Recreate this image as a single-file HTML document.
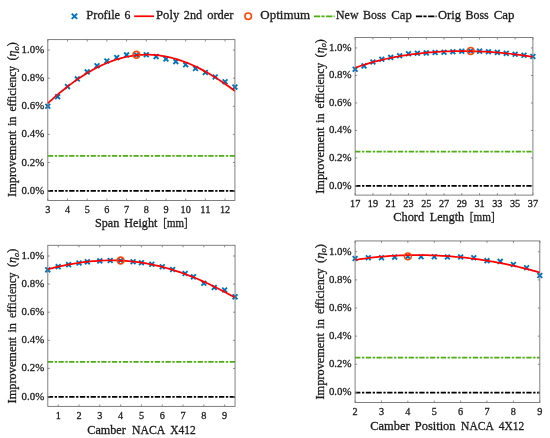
<!DOCTYPE html>
<html><head><meta charset="utf-8"><title>Improvement in efficiency</title>
<style>
html,body{margin:0;padding:0;background:#fff;}
svg{display:block;}
text{font-family:"Liberation Serif", "DejaVu Serif", serif;fill:#1c1c1c;stroke:#1c1c1c;stroke-width:0.3px;}
.lb{stroke-width:0.32px;}
</style></head><body>
<svg width="550" height="438" viewBox="0 0 550 438">
<rect width="550" height="438" fill="#fff"/>
<path d="M71.75 13.55L77.15 18.95M71.75 18.95L77.15 13.55" stroke="#0072BD" stroke-width="1.9" fill="none"/>
<line x1="134.2" x2="154.0" y1="16.25" y2="16.25" stroke="#FF0000" stroke-width="1.7"/>
<circle cx="248.20" cy="16.25" r="3.25" stroke="#FF4500" stroke-width="1.6" fill="none"/>
<line x1="313.9" x2="334.6" y1="16.35" y2="16.35" stroke="#4CAF10" stroke-width="1.6" stroke-dasharray="6.3 1.2 3.2 1.5"/>
<line x1="415.9" x2="436.6" y1="16.35" y2="16.35" stroke="#000000" stroke-width="1.6" stroke-dasharray="6.3 1.2 3.2 1.5"/>
<text class="lb" y="19.20" font-size="13.2"><tspan x="86.35" textLength="33.80" lengthAdjust="spacingAndGlyphs">Profile</tspan> <tspan x="124.45" textLength="5.90" lengthAdjust="spacingAndGlyphs">6</tspan></text>
<text class="lb" y="19.20" font-size="13.2"><tspan x="156.05" textLength="23.20" lengthAdjust="spacingAndGlyphs">Poly</tspan> <tspan x="183.85" textLength="18.30" lengthAdjust="spacingAndGlyphs">2nd</tspan> <tspan x="207.15" textLength="26.40" lengthAdjust="spacingAndGlyphs">order</tspan></text>
<text class="lb" y="19.20" font-size="13.2"><tspan x="260.35" textLength="49.70" lengthAdjust="spacingAndGlyphs">Optimum</tspan></text>
<text class="lb" y="19.20" font-size="13.2"><tspan x="336.05" textLength="22.40" lengthAdjust="spacingAndGlyphs">New</tspan> <tspan x="363.05" textLength="23.20" lengthAdjust="spacingAndGlyphs">Boss</tspan> <tspan x="391.35" textLength="20.60" lengthAdjust="spacingAndGlyphs">Cap</tspan></text>
<text class="lb" y="19.20" font-size="13.2"><tspan x="438.05" textLength="22.90" lengthAdjust="spacingAndGlyphs">Orig</tspan> <tspan x="465.55" textLength="23.20" lengthAdjust="spacingAndGlyphs">Boss</tspan> <tspan x="493.65" textLength="20.80" lengthAdjust="spacingAndGlyphs">Cap</tspan></text>
<line x1="47.8" x2="234.9" y1="155.88" y2="155.88" stroke="#4CAF10" stroke-width="1.75" stroke-dasharray="5.3 1.6 2.3 1.5"/>
<line x1="47.8" x2="234.9" y1="190.85" y2="190.85" stroke="#000000" stroke-width="1.75" stroke-dasharray="5.3 1.6 2.3 1.5"/>
<path d="M45.40 103.90L50.20 108.70M45.40 108.70L50.20 103.90" stroke="#0072BD" stroke-width="1.85" fill="none"/>
<path d="M55.25 94.40L60.05 99.20M55.25 99.20L60.05 94.40" stroke="#0072BD" stroke-width="1.85" fill="none"/>
<path d="M65.09 84.20L69.89 89.00M65.09 89.00L69.89 84.20" stroke="#0072BD" stroke-width="1.85" fill="none"/>
<path d="M74.94 76.50L79.74 81.30M74.94 81.30L79.74 76.50" stroke="#0072BD" stroke-width="1.85" fill="none"/>
<path d="M84.79 69.50L89.59 74.30M84.79 74.30L89.59 69.50" stroke="#0072BD" stroke-width="1.85" fill="none"/>
<path d="M94.64 63.40L99.44 68.20M94.64 68.20L99.44 63.40" stroke="#0072BD" stroke-width="1.85" fill="none"/>
<path d="M104.48 58.60L109.28 63.40M104.48 63.40L109.28 58.60" stroke="#0072BD" stroke-width="1.85" fill="none"/>
<path d="M114.33 55.20L119.13 60.00M114.33 60.00L119.13 55.20" stroke="#0072BD" stroke-width="1.85" fill="none"/>
<path d="M124.18 52.50L128.98 57.30M124.18 57.30L128.98 52.50" stroke="#0072BD" stroke-width="1.85" fill="none"/>
<path d="M134.03 52.60L138.83 57.40M134.03 57.40L138.83 52.60" stroke="#0072BD" stroke-width="1.85" fill="none"/>
<path d="M143.87 52.40L148.67 57.20M143.87 57.20L148.67 52.40" stroke="#0072BD" stroke-width="1.85" fill="none"/>
<path d="M153.72 54.20L158.52 59.00M153.72 59.00L158.52 54.20" stroke="#0072BD" stroke-width="1.85" fill="none"/>
<path d="M163.57 56.50L168.37 61.30M163.57 61.30L168.37 56.50" stroke="#0072BD" stroke-width="1.85" fill="none"/>
<path d="M173.42 59.20L178.22 64.00M173.42 64.00L178.22 59.20" stroke="#0072BD" stroke-width="1.85" fill="none"/>
<path d="M183.26 62.35L188.06 67.15M183.26 67.15L188.06 62.35" stroke="#0072BD" stroke-width="1.85" fill="none"/>
<path d="M193.11 66.10L197.91 70.90M193.11 70.90L197.91 66.10" stroke="#0072BD" stroke-width="1.85" fill="none"/>
<path d="M202.96 70.10L207.76 74.90M202.96 74.90L207.76 70.10" stroke="#0072BD" stroke-width="1.85" fill="none"/>
<path d="M212.81 74.60L217.61 79.40M212.81 79.40L217.61 74.60" stroke="#0072BD" stroke-width="1.85" fill="none"/>
<path d="M222.65 79.40L227.45 84.20M222.65 84.20L227.45 79.40" stroke="#0072BD" stroke-width="1.85" fill="none"/>
<path d="M232.50 84.70L237.30 89.50M232.50 89.50L237.30 84.70" stroke="#0072BD" stroke-width="1.85" fill="none"/>
<polyline points="47.80,103.29 50.17,101.14 52.54,99.03 54.91,96.96 57.27,94.93 59.64,92.94 62.01,90.99 64.38,89.08 66.75,87.21 69.12,85.39 71.48,83.62 73.85,81.89 76.22,80.20 78.59,78.57 80.96,76.98 83.33,75.45 85.69,73.96 88.06,72.53 90.43,71.14 92.80,69.81 95.17,68.54 97.54,67.31 99.90,66.14 102.27,65.03 104.64,63.97 107.01,62.96 109.38,62.02 111.75,61.12 114.11,60.29 116.48,59.51 118.85,58.79 121.22,58.13 123.59,57.52 125.96,56.98 128.32,56.49 130.69,56.06 133.06,55.69 135.43,55.38 137.80,55.12 140.17,54.93 142.53,54.79 144.90,54.71 147.27,54.69 149.64,54.73 152.01,54.83 154.38,54.98 156.74,55.19 159.11,55.46 161.48,55.79 163.85,56.17 166.22,56.61 168.59,57.11 170.95,57.66 173.32,58.27 175.69,58.93 178.06,59.64 180.43,60.41 182.80,61.23 185.16,62.10 187.53,63.03 189.90,64.00 192.27,65.03 194.64,66.10 197.01,67.23 199.37,68.40 201.74,69.62 204.11,70.88 206.48,72.19 208.85,73.54 211.22,74.94 213.58,76.38 215.95,77.85 218.32,79.37 220.69,80.93 223.06,82.52 225.43,84.16 227.79,85.82 230.16,87.52 232.53,89.25 234.90,91.02" fill="none" stroke="#FF0000" stroke-width="1.75" stroke-linejoin="round"/>
<circle cx="136.43" cy="54.75" r="3.4" stroke="#FF4500" stroke-width="1.6" fill="none"/>
<rect x="47.8" y="39.6" width="187.10" height="160.90" fill="none" stroke="#737373" stroke-width="0.9"/>
<path d="M47.80 200.5v-2.0M47.80 39.6v2.0M67.49 200.5v-2.0M67.49 39.6v2.0M87.19 200.5v-2.0M87.19 39.6v2.0M106.88 200.5v-2.0M106.88 39.6v2.0M126.58 200.5v-2.0M126.58 39.6v2.0M146.27 200.5v-2.0M146.27 39.6v2.0M165.97 200.5v-2.0M165.97 39.6v2.0M185.66 200.5v-2.0M185.66 39.6v2.0M205.36 200.5v-2.0M205.36 39.6v2.0M225.05 200.5v-2.0M225.05 39.6v2.0M47.8 190.60h2.0M234.9 190.60h-2.0M47.8 162.50h2.0M234.9 162.50h-2.0M47.8 134.40h2.0M234.9 134.40h-2.0M47.8 106.30h2.0M234.9 106.30h-2.0M47.8 78.20h2.0M234.9 78.20h-2.0M47.8 50.10h2.0M234.9 50.10h-2.0" stroke="#737373" stroke-width="0.8" fill="none"/>
<text x="45.25" y="212.80" font-size="11.2" textLength="5.10" lengthAdjust="spacingAndGlyphs">3</text>
<text x="64.94" y="212.80" font-size="11.2" textLength="5.10" lengthAdjust="spacingAndGlyphs">4</text>
<text x="84.64" y="212.80" font-size="11.2" textLength="5.10" lengthAdjust="spacingAndGlyphs">5</text>
<text x="104.33" y="212.80" font-size="11.2" textLength="5.10" lengthAdjust="spacingAndGlyphs">6</text>
<text x="124.03" y="212.80" font-size="11.2" textLength="5.10" lengthAdjust="spacingAndGlyphs">7</text>
<text x="143.72" y="212.80" font-size="11.2" textLength="5.10" lengthAdjust="spacingAndGlyphs">8</text>
<text x="163.42" y="212.80" font-size="11.2" textLength="5.10" lengthAdjust="spacingAndGlyphs">9</text>
<text x="180.56" y="212.80" font-size="11.2" textLength="10.20" lengthAdjust="spacingAndGlyphs">10</text>
<text x="200.26" y="212.80" font-size="11.2" textLength="10.20" lengthAdjust="spacingAndGlyphs">11</text>
<text x="219.95" y="212.80" font-size="11.2" textLength="10.20" lengthAdjust="spacingAndGlyphs">12</text>
<text x="21.60" y="193.60" font-size="11.2" textLength="22.6" lengthAdjust="spacingAndGlyphs">0.0%</text>
<text x="21.60" y="165.50" font-size="11.2" textLength="22.6" lengthAdjust="spacingAndGlyphs">0.2%</text>
<text x="21.60" y="137.40" font-size="11.2" textLength="22.6" lengthAdjust="spacingAndGlyphs">0.4%</text>
<text x="21.60" y="109.30" font-size="11.2" textLength="22.6" lengthAdjust="spacingAndGlyphs">0.6%</text>
<text x="21.60" y="81.20" font-size="11.2" textLength="22.6" lengthAdjust="spacingAndGlyphs">0.8%</text>
<text x="21.60" y="53.10" font-size="11.2" textLength="22.6" lengthAdjust="spacingAndGlyphs">1.0%</text>
<text class="lb" y="227.00" font-size="13.2"><tspan x="95.00" textLength="24.35" lengthAdjust="spacingAndGlyphs">Span</tspan> <tspan x="124.25" textLength="33.10" lengthAdjust="spacingAndGlyphs">Height</tspan> <tspan x="163.35" textLength="24.30" lengthAdjust="spacingAndGlyphs">[mm]</tspan></text>
<text class="lb" transform="translate(16.3,196.80) rotate(-90)" font-size="13.2"><tspan x="-0.10" textLength="66.4" lengthAdjust="spacingAndGlyphs">Improvement</tspan> <tspan x="70.70" textLength="9.55" lengthAdjust="spacingAndGlyphs">in</tspan> <tspan x="85.30" textLength="45.55" lengthAdjust="spacingAndGlyphs">efficiency</tspan> <tspan x="136.30" textLength="18.2" lengthAdjust="spacingAndGlyphs">(<tspan font-style="italic">η</tspan><tspan font-style="italic" font-size="9" dy="2.2">o</tspan><tspan dy="-2.2">)</tspan></tspan></text>
<line x1="355.15" x2="532.9" y1="151.51" y2="151.51" stroke="#4CAF10" stroke-width="1.75" stroke-dasharray="5.3 1.6 2.3 1.5"/>
<line x1="355.15" x2="532.9" y1="185.75" y2="185.75" stroke="#000000" stroke-width="1.75" stroke-dasharray="5.3 1.6 2.3 1.5"/>
<path d="M352.75 66.90L357.55 71.70M352.75 71.70L357.55 66.90" stroke="#0072BD" stroke-width="1.85" fill="none"/>
<path d="M361.64 63.50L366.44 68.30M361.64 68.30L366.44 63.50" stroke="#0072BD" stroke-width="1.85" fill="none"/>
<path d="M370.52 59.60L375.32 64.40M370.52 64.40L375.32 59.60" stroke="#0072BD" stroke-width="1.85" fill="none"/>
<path d="M379.41 56.90L384.21 61.70M379.41 61.70L384.21 56.90" stroke="#0072BD" stroke-width="1.85" fill="none"/>
<path d="M388.30 55.00L393.10 59.80M388.30 59.80L393.10 55.00" stroke="#0072BD" stroke-width="1.85" fill="none"/>
<path d="M397.19 53.30L401.99 58.10M397.19 58.10L401.99 53.30" stroke="#0072BD" stroke-width="1.85" fill="none"/>
<path d="M406.07 51.30L410.87 56.10M406.07 56.10L410.87 51.30" stroke="#0072BD" stroke-width="1.85" fill="none"/>
<path d="M414.96 50.90L419.76 55.70M414.96 55.70L419.76 50.90" stroke="#0072BD" stroke-width="1.85" fill="none"/>
<path d="M423.85 50.50L428.65 55.30M423.85 55.30L428.65 50.50" stroke="#0072BD" stroke-width="1.85" fill="none"/>
<path d="M432.74 50.10L437.54 54.90M432.74 54.90L437.54 50.10" stroke="#0072BD" stroke-width="1.85" fill="none"/>
<path d="M441.62 49.90L446.42 54.70M441.62 54.70L446.42 49.90" stroke="#0072BD" stroke-width="1.85" fill="none"/>
<path d="M450.51 49.40L455.31 54.20M450.51 54.20L455.31 49.40" stroke="#0072BD" stroke-width="1.85" fill="none"/>
<path d="M459.40 48.85L464.20 53.65M459.40 53.65L464.20 48.85" stroke="#0072BD" stroke-width="1.85" fill="none"/>
<path d="M468.29 48.55L473.09 53.35M468.29 53.35L473.09 48.55" stroke="#0072BD" stroke-width="1.85" fill="none"/>
<path d="M477.18 48.75L481.97 53.55M477.18 53.55L481.97 48.75" stroke="#0072BD" stroke-width="1.85" fill="none"/>
<path d="M486.06 49.40L490.86 54.20M486.06 54.20L490.86 49.40" stroke="#0072BD" stroke-width="1.85" fill="none"/>
<path d="M494.95 50.00L499.75 54.80M494.95 54.80L499.75 50.00" stroke="#0072BD" stroke-width="1.85" fill="none"/>
<path d="M503.84 50.95L508.64 55.75M503.84 55.75L508.64 50.95" stroke="#0072BD" stroke-width="1.85" fill="none"/>
<path d="M512.73 51.85L517.52 56.65M512.73 56.65L517.52 51.85" stroke="#0072BD" stroke-width="1.85" fill="none"/>
<path d="M521.61 52.80L526.41 57.60M521.61 57.60L526.41 52.80" stroke="#0072BD" stroke-width="1.85" fill="none"/>
<path d="M530.50 54.05L535.30 58.85M530.50 58.85L535.30 54.05" stroke="#0072BD" stroke-width="1.85" fill="none"/>
<polyline points="355.15,67.80 357.40,67.00 359.65,66.22 361.90,65.47 364.15,64.74 366.40,64.04 368.65,63.36 370.90,62.70 373.15,62.07 375.40,61.46 377.65,60.87 379.90,60.30 382.15,59.76 384.40,59.23 386.65,58.73 388.90,58.24 391.15,57.78 393.40,57.33 395.65,56.90 397.90,56.49 400.15,56.10 402.40,55.72 404.65,55.37 406.90,55.02 409.15,54.70 411.40,54.39 413.65,54.10 415.90,53.82 418.15,53.55 420.40,53.31 422.65,53.07 424.90,52.85 427.15,52.65 429.40,52.46 431.65,52.28 433.90,52.11 436.15,51.96 438.40,51.82 440.65,51.70 442.90,51.59 445.15,51.49 447.40,51.40 449.65,51.32 451.90,51.26 454.15,51.21 456.40,51.17 458.65,51.14 460.90,51.12 463.15,51.12 465.40,51.13 467.65,51.15 469.90,51.18 472.15,51.22 474.40,51.27 476.65,51.34 478.90,51.42 481.15,51.51 483.40,51.61 485.65,51.72 487.90,51.84 490.15,51.98 492.40,52.12 494.65,52.28 496.90,52.46 499.15,52.64 501.40,52.84 503.65,53.05 505.90,53.27 508.15,53.50 510.40,53.75 512.65,54.01 514.90,54.28 517.15,54.57 519.40,54.87 521.65,55.19 523.90,55.51 526.15,55.86 528.40,56.22 530.65,56.59 532.90,56.98" fill="none" stroke="#FF0000" stroke-width="1.75" stroke-linejoin="round"/>
<circle cx="470.69" cy="50.95" r="3.4" stroke="#FF4500" stroke-width="1.6" fill="none"/>
<rect x="355.15" y="37.5" width="177.75" height="157.60" fill="none" stroke="#737373" stroke-width="0.9"/>
<path d="M355.15 195.1v-2.0M355.15 37.5v2.0M372.92 195.1v-2.0M372.92 37.5v2.0M390.70 195.1v-2.0M390.70 37.5v2.0M408.47 195.1v-2.0M408.47 37.5v2.0M426.25 195.1v-2.0M426.25 37.5v2.0M444.02 195.1v-2.0M444.02 37.5v2.0M461.80 195.1v-2.0M461.80 37.5v2.0M479.57 195.1v-2.0M479.57 37.5v2.0M497.35 195.1v-2.0M497.35 37.5v2.0M515.12 195.1v-2.0M515.12 37.5v2.0M532.90 195.1v-2.0M532.90 37.5v2.0M355.15 185.50h2.0M532.9 185.50h-2.0M355.15 157.99h2.0M532.9 157.99h-2.0M355.15 130.48h2.0M532.9 130.48h-2.0M355.15 102.97h2.0M532.9 102.97h-2.0M355.15 75.46h2.0M532.9 75.46h-2.0M355.15 47.95h2.0M532.9 47.95h-2.0" stroke="#737373" stroke-width="0.8" fill="none"/>
<text x="350.05" y="207.10" font-size="11.2" textLength="10.20" lengthAdjust="spacingAndGlyphs">17</text>
<text x="367.82" y="207.10" font-size="11.2" textLength="10.20" lengthAdjust="spacingAndGlyphs">19</text>
<text x="385.60" y="207.10" font-size="11.2" textLength="10.20" lengthAdjust="spacingAndGlyphs">21</text>
<text x="403.37" y="207.10" font-size="11.2" textLength="10.20" lengthAdjust="spacingAndGlyphs">23</text>
<text x="421.15" y="207.10" font-size="11.2" textLength="10.20" lengthAdjust="spacingAndGlyphs">25</text>
<text x="438.92" y="207.10" font-size="11.2" textLength="10.20" lengthAdjust="spacingAndGlyphs">27</text>
<text x="456.70" y="207.10" font-size="11.2" textLength="10.20" lengthAdjust="spacingAndGlyphs">29</text>
<text x="474.47" y="207.10" font-size="11.2" textLength="10.20" lengthAdjust="spacingAndGlyphs">31</text>
<text x="492.25" y="207.10" font-size="11.2" textLength="10.20" lengthAdjust="spacingAndGlyphs">33</text>
<text x="510.02" y="207.10" font-size="11.2" textLength="10.20" lengthAdjust="spacingAndGlyphs">35</text>
<text x="527.80" y="207.10" font-size="11.2" textLength="10.20" lengthAdjust="spacingAndGlyphs">37</text>
<text x="328.95" y="188.50" font-size="11.2" textLength="22.6" lengthAdjust="spacingAndGlyphs">0.0%</text>
<text x="328.95" y="160.99" font-size="11.2" textLength="22.6" lengthAdjust="spacingAndGlyphs">0.2%</text>
<text x="328.95" y="133.48" font-size="11.2" textLength="22.6" lengthAdjust="spacingAndGlyphs">0.4%</text>
<text x="328.95" y="105.97" font-size="11.2" textLength="22.6" lengthAdjust="spacingAndGlyphs">0.6%</text>
<text x="328.95" y="78.46" font-size="11.2" textLength="22.6" lengthAdjust="spacingAndGlyphs">0.8%</text>
<text x="328.95" y="50.95" font-size="11.2" textLength="22.6" lengthAdjust="spacingAndGlyphs">1.0%</text>
<text class="lb" y="221.40" font-size="13.2"><tspan x="393.25" textLength="30.90" lengthAdjust="spacingAndGlyphs">Chord</tspan> <tspan x="429.85" textLength="34.30" lengthAdjust="spacingAndGlyphs">Length</tspan> <tspan x="469.85" textLength="24.90" lengthAdjust="spacingAndGlyphs">[mm]</tspan></text>
<text class="lb" transform="translate(323.6,193.70) rotate(-90)" font-size="13.2"><tspan x="-0.10" textLength="66.4" lengthAdjust="spacingAndGlyphs">Improvement</tspan> <tspan x="70.70" textLength="9.55" lengthAdjust="spacingAndGlyphs">in</tspan> <tspan x="85.30" textLength="45.55" lengthAdjust="spacingAndGlyphs">efficiency</tspan> <tspan x="136.30" textLength="18.2" lengthAdjust="spacingAndGlyphs">(<tspan font-style="italic">η</tspan><tspan font-style="italic" font-size="9" dy="2.2">o</tspan><tspan dy="-2.2">)</tspan></tspan></text>
<line x1="47.8" x2="235.05" y1="361.77" y2="361.77" stroke="#4CAF10" stroke-width="1.75" stroke-dasharray="5.3 1.6 2.3 1.5"/>
<line x1="47.8" x2="235.05" y1="396.75" y2="396.75" stroke="#000000" stroke-width="1.75" stroke-dasharray="5.3 1.6 2.3 1.5"/>
<path d="M45.40 267.45L50.20 272.25M45.40 272.25L50.20 267.45" stroke="#0072BD" stroke-width="1.85" fill="none"/>
<path d="M55.80 264.25L60.60 269.05M55.80 269.05L60.60 264.25" stroke="#0072BD" stroke-width="1.85" fill="none"/>
<path d="M66.21 262.25L71.01 267.05M66.21 267.05L71.01 262.25" stroke="#0072BD" stroke-width="1.85" fill="none"/>
<path d="M76.61 260.60L81.41 265.40M76.61 265.40L81.41 260.60" stroke="#0072BD" stroke-width="1.85" fill="none"/>
<path d="M84.93 259.45L89.73 264.25M84.93 264.25L89.73 259.45" stroke="#0072BD" stroke-width="1.85" fill="none"/>
<path d="M97.41 258.50L102.21 263.30M97.41 263.30L102.21 258.50" stroke="#0072BD" stroke-width="1.85" fill="none"/>
<path d="M107.82 258.15L112.62 262.95M107.82 262.95L112.62 258.15" stroke="#0072BD" stroke-width="1.85" fill="none"/>
<path d="M118.22 258.15L123.02 262.95M118.22 262.95L123.02 258.15" stroke="#0072BD" stroke-width="1.85" fill="none"/>
<path d="M130.70 259.35L135.50 264.15M130.70 264.15L135.50 259.35" stroke="#0072BD" stroke-width="1.85" fill="none"/>
<path d="M139.03 260.35L143.83 265.15M139.03 265.15L143.83 260.35" stroke="#0072BD" stroke-width="1.85" fill="none"/>
<path d="M149.43 261.90L154.23 266.70M149.43 266.70L154.23 261.90" stroke="#0072BD" stroke-width="1.85" fill="none"/>
<path d="M159.83 264.35L164.63 269.15M159.83 269.15L164.63 264.35" stroke="#0072BD" stroke-width="1.85" fill="none"/>
<path d="M170.23 267.05L175.03 271.85M170.23 271.85L175.03 267.05" stroke="#0072BD" stroke-width="1.85" fill="none"/>
<path d="M182.72 271.15L187.52 275.95M182.72 275.95L187.52 271.15" stroke="#0072BD" stroke-width="1.85" fill="none"/>
<path d="M191.04 274.45L195.84 279.25M191.04 279.25L195.84 274.45" stroke="#0072BD" stroke-width="1.85" fill="none"/>
<path d="M201.44 280.85L206.24 285.65M201.44 285.65L206.24 280.85" stroke="#0072BD" stroke-width="1.85" fill="none"/>
<path d="M211.84 285.05L216.64 289.85M211.84 289.85L216.64 285.05" stroke="#0072BD" stroke-width="1.85" fill="none"/>
<path d="M222.25 287.55L227.05 292.35M222.25 292.35L227.05 287.55" stroke="#0072BD" stroke-width="1.85" fill="none"/>
<path d="M232.65 294.45L237.45 299.25M232.65 299.25L237.45 294.45" stroke="#0072BD" stroke-width="1.85" fill="none"/>
<polyline points="47.80,269.22 50.17,268.62 52.54,268.04 54.91,267.47 57.28,266.93 59.65,266.40 62.02,265.89 64.39,265.40 66.76,264.93 69.13,264.48 71.50,264.05 73.87,263.64 76.24,263.26 78.61,262.90 80.98,262.56 83.35,262.24 85.72,261.95 88.09,261.68 90.46,261.43 92.83,261.21 95.21,261.02 97.58,260.85 99.95,260.71 102.32,260.59 104.69,260.50 107.06,260.44 109.43,260.40 111.80,260.39 114.17,260.41 116.54,260.45 118.91,260.53 121.28,260.63 123.65,260.76 126.02,260.91 128.39,261.10 130.76,261.31 133.13,261.56 135.50,261.83 137.87,262.13 140.24,262.46 142.61,262.82 144.98,263.20 147.35,263.62 149.72,264.06 152.09,264.53 154.46,265.04 156.83,265.57 159.20,266.12 161.57,266.71 163.94,267.32 166.31,267.97 168.68,268.64 171.05,269.34 173.42,270.06 175.79,270.82 178.16,271.60 180.53,272.40 182.90,273.24 185.27,274.10 187.64,274.98 190.02,275.90 192.39,276.83 194.76,277.79 197.13,278.78 199.50,279.79 201.87,280.83 204.24,281.89 206.61,282.97 208.98,284.07 211.35,285.20 213.72,286.35 216.09,287.52 218.46,288.71 220.83,289.92 223.20,291.15 225.57,292.40 227.94,293.67 230.31,294.96 232.68,296.26 235.05,297.58" fill="none" stroke="#FF0000" stroke-width="1.75" stroke-linejoin="round"/>
<circle cx="120.62" cy="260.50" r="3.4" stroke="#FF4500" stroke-width="1.6" fill="none"/>
<rect x="47.8" y="245.3" width="187.25" height="161.10" fill="none" stroke="#737373" stroke-width="0.9"/>
<path d="M58.20 406.4v-2.0M58.20 245.3v2.0M79.01 406.4v-2.0M79.01 245.3v2.0M99.81 406.4v-2.0M99.81 245.3v2.0M120.62 406.4v-2.0M120.62 245.3v2.0M141.43 406.4v-2.0M141.43 245.3v2.0M162.23 406.4v-2.0M162.23 245.3v2.0M183.04 406.4v-2.0M183.04 245.3v2.0M203.84 406.4v-2.0M203.84 245.3v2.0M224.65 406.4v-2.0M224.65 245.3v2.0M47.8 396.50h2.0M235.05 396.50h-2.0M47.8 368.40h2.0M235.05 368.40h-2.0M47.8 340.30h2.0M235.05 340.30h-2.0M47.8 312.20h2.0M235.05 312.20h-2.0M47.8 284.10h2.0M235.05 284.10h-2.0M47.8 256.00h2.0M235.05 256.00h-2.0" stroke="#737373" stroke-width="0.8" fill="none"/>
<text x="55.65" y="419.20" font-size="11.2" textLength="5.10" lengthAdjust="spacingAndGlyphs">1</text>
<text x="76.46" y="419.20" font-size="11.2" textLength="5.10" lengthAdjust="spacingAndGlyphs">2</text>
<text x="97.26" y="419.20" font-size="11.2" textLength="5.10" lengthAdjust="spacingAndGlyphs">3</text>
<text x="118.07" y="419.20" font-size="11.2" textLength="5.10" lengthAdjust="spacingAndGlyphs">4</text>
<text x="138.88" y="419.20" font-size="11.2" textLength="5.10" lengthAdjust="spacingAndGlyphs">5</text>
<text x="159.68" y="419.20" font-size="11.2" textLength="5.10" lengthAdjust="spacingAndGlyphs">6</text>
<text x="180.49" y="419.20" font-size="11.2" textLength="5.10" lengthAdjust="spacingAndGlyphs">7</text>
<text x="201.29" y="419.20" font-size="11.2" textLength="5.10" lengthAdjust="spacingAndGlyphs">8</text>
<text x="222.10" y="419.20" font-size="11.2" textLength="5.10" lengthAdjust="spacingAndGlyphs">9</text>
<text x="21.60" y="399.50" font-size="11.2" textLength="22.6" lengthAdjust="spacingAndGlyphs">0.0%</text>
<text x="21.60" y="371.40" font-size="11.2" textLength="22.6" lengthAdjust="spacingAndGlyphs">0.2%</text>
<text x="21.60" y="343.30" font-size="11.2" textLength="22.6" lengthAdjust="spacingAndGlyphs">0.4%</text>
<text x="21.60" y="315.20" font-size="11.2" textLength="22.6" lengthAdjust="spacingAndGlyphs">0.6%</text>
<text x="21.60" y="287.10" font-size="11.2" textLength="22.6" lengthAdjust="spacingAndGlyphs">0.8%</text>
<text x="21.60" y="259.00" font-size="11.2" textLength="22.6" lengthAdjust="spacingAndGlyphs">1.0%</text>
<text class="lb" y="433.70" font-size="13.2"><tspan x="87.30" textLength="38.45" lengthAdjust="spacingAndGlyphs">Camber</tspan> <tspan x="132.05" textLength="32.60" lengthAdjust="spacingAndGlyphs">NACA</tspan> <tspan x="170.25" textLength="25.60" lengthAdjust="spacingAndGlyphs">X412</tspan></text>
<text class="lb" transform="translate(16.3,403.30) rotate(-90)" font-size="13.2"><tspan x="-0.10" textLength="66.4" lengthAdjust="spacingAndGlyphs">Improvement</tspan> <tspan x="70.70" textLength="9.55" lengthAdjust="spacingAndGlyphs">in</tspan> <tspan x="85.30" textLength="45.55" lengthAdjust="spacingAndGlyphs">efficiency</tspan> <tspan x="136.30" textLength="18.2" lengthAdjust="spacingAndGlyphs">(<tspan font-style="italic">η</tspan><tspan font-style="italic" font-size="9" dy="2.2">o</tspan><tspan dy="-2.2">)</tspan></tspan></text>
<line x1="355.1" x2="539.8" y1="357.64" y2="357.64" stroke="#4CAF10" stroke-width="1.75" stroke-dasharray="5.3 1.6 2.3 1.5"/>
<line x1="355.1" x2="539.8" y1="392.65" y2="392.65" stroke="#000000" stroke-width="1.75" stroke-dasharray="5.3 1.6 2.3 1.5"/>
<path d="M352.70 256.10L357.50 260.90M352.70 260.90L357.50 256.10" stroke="#0072BD" stroke-width="1.85" fill="none"/>
<path d="M365.89 255.40L370.69 260.20M365.89 260.20L370.69 255.40" stroke="#0072BD" stroke-width="1.85" fill="none"/>
<path d="M379.09 255.40L383.89 260.20M379.09 260.20L383.89 255.40" stroke="#0072BD" stroke-width="1.85" fill="none"/>
<path d="M392.28 254.70L397.08 259.50M392.28 259.50L397.08 254.70" stroke="#0072BD" stroke-width="1.85" fill="none"/>
<path d="M405.47 254.20L410.27 259.00M405.47 259.00L410.27 254.20" stroke="#0072BD" stroke-width="1.85" fill="none"/>
<path d="M418.66 254.40L423.46 259.20M418.66 259.20L423.46 254.40" stroke="#0072BD" stroke-width="1.85" fill="none"/>
<path d="M431.86 254.40L436.66 259.20M431.86 259.20L436.66 254.40" stroke="#0072BD" stroke-width="1.85" fill="none"/>
<path d="M445.05 254.55L449.85 259.35M445.05 259.35L449.85 254.55" stroke="#0072BD" stroke-width="1.85" fill="none"/>
<path d="M458.24 254.55L463.04 259.35M458.24 259.35L463.04 254.55" stroke="#0072BD" stroke-width="1.85" fill="none"/>
<path d="M471.44 255.40L476.24 260.20M471.44 260.20L476.24 255.40" stroke="#0072BD" stroke-width="1.85" fill="none"/>
<path d="M484.63 258.25L489.43 263.05M484.63 263.05L489.43 258.25" stroke="#0072BD" stroke-width="1.85" fill="none"/>
<path d="M497.82 259.00L502.62 263.80M497.82 263.80L502.62 259.00" stroke="#0072BD" stroke-width="1.85" fill="none"/>
<path d="M511.01 262.10L515.81 266.90M511.01 266.90L515.81 262.10" stroke="#0072BD" stroke-width="1.85" fill="none"/>
<path d="M524.21 265.40L529.01 270.20M524.21 270.20L529.01 265.40" stroke="#0072BD" stroke-width="1.85" fill="none"/>
<path d="M537.40 273.10L542.20 277.90M537.40 277.90L542.20 273.10" stroke="#0072BD" stroke-width="1.85" fill="none"/>
<polyline points="355.10,259.92 357.44,259.55 359.78,259.20 362.11,258.87 364.45,258.55 366.79,258.25 369.13,257.96 371.47,257.68 373.80,257.42 376.14,257.17 378.48,256.94 380.82,256.72 383.16,256.52 385.49,256.33 387.83,256.16 390.17,255.99 392.51,255.84 394.85,255.71 397.18,255.59 399.52,255.48 401.86,255.39 404.20,255.31 406.54,255.24 408.87,255.18 411.21,255.14 413.55,255.11 415.89,255.10 418.23,255.10 420.56,255.11 422.90,255.13 425.24,255.17 427.58,255.22 429.92,255.28 432.25,255.35 434.59,255.44 436.93,255.54 439.27,255.65 441.61,255.78 443.94,255.91 446.28,256.06 448.62,256.23 450.96,256.40 453.29,256.59 455.63,256.79 457.97,257.00 460.31,257.23 462.65,257.46 464.98,257.71 467.32,257.98 469.66,258.25 472.00,258.54 474.34,258.84 476.67,259.15 479.01,259.48 481.35,259.82 483.69,260.17 486.03,260.53 488.36,260.91 490.70,261.29 493.04,261.70 495.38,262.11 497.72,262.54 500.05,262.98 502.39,263.43 504.73,263.90 507.07,264.38 509.41,264.87 511.74,265.38 514.08,265.90 516.42,266.43 518.76,266.98 521.10,267.54 523.43,268.11 525.77,268.70 528.11,269.30 530.45,269.91 532.79,270.54 535.12,271.18 537.46,271.84 539.80,272.51" fill="none" stroke="#FF0000" stroke-width="1.75" stroke-linejoin="round"/>
<circle cx="407.87" cy="256.40" r="3.4" stroke="#FF4500" stroke-width="1.6" fill="none"/>
<rect x="355.1" y="240.95" width="184.70" height="161.55" fill="none" stroke="#737373" stroke-width="0.9"/>
<path d="M355.10 402.5v-2.0M355.10 240.95v2.0M381.49 402.5v-2.0M381.49 240.95v2.0M407.87 402.5v-2.0M407.87 240.95v2.0M434.26 402.5v-2.0M434.26 240.95v2.0M460.64 402.5v-2.0M460.64 240.95v2.0M487.03 402.5v-2.0M487.03 240.95v2.0M513.41 402.5v-2.0M513.41 240.95v2.0M539.80 402.5v-2.0M539.80 240.95v2.0M355.1 392.40h2.0M539.8 392.40h-2.0M355.1 364.27h2.0M539.8 364.27h-2.0M355.1 336.14h2.0M539.8 336.14h-2.0M355.1 308.01h2.0M539.8 308.01h-2.0M355.1 279.88h2.0M539.8 279.88h-2.0M355.1 251.75h2.0M539.8 251.75h-2.0" stroke="#737373" stroke-width="0.8" fill="none"/>
<text x="352.55" y="415.20" font-size="11.2" textLength="5.10" lengthAdjust="spacingAndGlyphs">2</text>
<text x="378.94" y="415.20" font-size="11.2" textLength="5.10" lengthAdjust="spacingAndGlyphs">3</text>
<text x="405.32" y="415.20" font-size="11.2" textLength="5.10" lengthAdjust="spacingAndGlyphs">4</text>
<text x="431.71" y="415.20" font-size="11.2" textLength="5.10" lengthAdjust="spacingAndGlyphs">5</text>
<text x="458.09" y="415.20" font-size="11.2" textLength="5.10" lengthAdjust="spacingAndGlyphs">6</text>
<text x="484.48" y="415.20" font-size="11.2" textLength="5.10" lengthAdjust="spacingAndGlyphs">7</text>
<text x="510.86" y="415.20" font-size="11.2" textLength="5.10" lengthAdjust="spacingAndGlyphs">8</text>
<text x="537.25" y="415.20" font-size="11.2" textLength="5.10" lengthAdjust="spacingAndGlyphs">9</text>
<text x="328.90" y="395.40" font-size="11.2" textLength="22.6" lengthAdjust="spacingAndGlyphs">0.0%</text>
<text x="328.90" y="367.27" font-size="11.2" textLength="22.6" lengthAdjust="spacingAndGlyphs">0.2%</text>
<text x="328.90" y="339.14" font-size="11.2" textLength="22.6" lengthAdjust="spacingAndGlyphs">0.4%</text>
<text x="328.90" y="311.01" font-size="11.2" textLength="22.6" lengthAdjust="spacingAndGlyphs">0.6%</text>
<text x="328.90" y="282.88" font-size="11.2" textLength="22.6" lengthAdjust="spacingAndGlyphs">0.8%</text>
<text x="328.90" y="254.75" font-size="11.2" textLength="22.6" lengthAdjust="spacingAndGlyphs">1.0%</text>
<text class="lb" y="429.65" font-size="13.2"><tspan x="370.25" textLength="39.40" lengthAdjust="spacingAndGlyphs">Camber</tspan> <tspan x="414.75" textLength="40.80" lengthAdjust="spacingAndGlyphs">Position</tspan> <tspan x="461.05" textLength="32.10" lengthAdjust="spacingAndGlyphs">NACA</tspan> <tspan x="498.65" textLength="25.50" lengthAdjust="spacingAndGlyphs">4X12</tspan></text>
<text class="lb" transform="translate(323.6,399.40) rotate(-90)" font-size="13.2"><tspan x="-0.10" textLength="66.4" lengthAdjust="spacingAndGlyphs">Improvement</tspan> <tspan x="70.70" textLength="9.55" lengthAdjust="spacingAndGlyphs">in</tspan> <tspan x="85.30" textLength="45.55" lengthAdjust="spacingAndGlyphs">efficiency</tspan> <tspan x="136.30" textLength="19.1" lengthAdjust="spacingAndGlyphs">(<tspan font-style="italic">η</tspan><tspan font-style="italic" font-size="9" dy="2.2">o</tspan><tspan dy="-2.2">)</tspan></tspan></text>
</svg></body></html>
